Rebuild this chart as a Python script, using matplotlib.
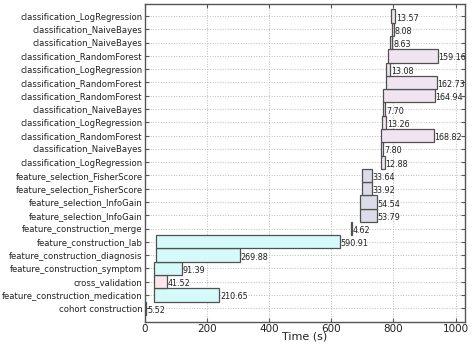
#!/usr/bin/env python3

import matplotlib
matplotlib.use("Agg")
import matplotlib.pyplot as plt

# bottom row first
tasks = ["cohort construction",
         "feature_construction_medication",
         "cross_validation",
         "feature_construction_symptom",
         "feature_construction_diagnosis",
         "feature_construction_lab",
         "feature_construction_merge",
         "feature_selection_InfoGain",
         "feature_selection_InfoGain",
         "feature_selection_FisherScore",
         "feature_selection_FisherScore",
         "classification_LogRegression",
         "classification_NaiveBayes",
         "classification_RandomForest",
         "classification_LogRegression",
         "classification_NaiveBayes",
         "classification_RandomForest",
         "classification_RandomForest",
         "classification_LogRegression",
         "classification_RandomForest",
         "classification_NaiveBayes",
         "classification_NaiveBayes",
         "classification_LogRegression"]
starts = [0, 30, 30, 29, 37, 37, 663, 693, 693, 698, 698,
          760, 760, 761, 763, 766, 768, 777, 777, 783, 788, 794, 792]
durations = [5.52, 210.65, 41.52, 91.39, 269.88, 590.91, 4.62, 53.79, 54.54,
             33.92, 33.64, 12.88, 7.80, 168.82, 13.26, 7.70, 164.94, 162.73,
             13.08, 159.16, 8.63, 8.08, 13.57]


def task_color(name):
    if name.startswith("classification"):
        return "#f0e4f0"
    if name.startswith("feature_selection"):
        return "#dcdce8"
    if name == "feature_construction_merge" or name.startswith("cohort"):
        return "#a8a8a8"
    if name.startswith("feature_construction"):
        return "#d4fafa"
    return "#fbe6ec"


def main():
    fig = plt.figure(figsize=(4.74, 3.45), dpi=100)
    ax = fig.add_axes([0.305, 0.068, 0.676, 0.920])

    ys = list(range(len(tasks)))
    colors = [task_color(t) for t in tasks]
    ax.barh(ys, durations, left=starts, height=1.0, color=colors,
            edgecolor="#505050", linewidth=0.9, zorder=3)

    for y, s, d in zip(ys, starts, durations):
        ax.text(s + d + 2, y - 0.15, "%.2f" % d, fontsize=5.8,
                va="center", ha="left", color="#222222", zorder=4)

    ax.set_yticks(ys)
    ax.set_yticklabels(tasks, fontsize=6.1, color="#222222")
    ax.set_xticks([0, 200, 400, 600, 800, 1000])
    ax.tick_params(axis="x", labelsize=7.5, colors="#222222", pad=1.5)
    ax.tick_params(axis="y", pad=1.5)
    ax.tick_params(direction="in", length=3, top=True, right=True,
                   color="#555555")
    ax.set_xlim(0, 1030)
    ax.set_ylim(-1, 22.9)
    ax.set_xlabel("Time (s)", fontsize=8, labelpad=-1.5, color="#222222")
    ax.grid(True, linestyle=":", color="#bbbbbb", linewidth=0.7, zorder=0)
    for sp in ax.spines.values():
        sp.set_color("#555555")
        sp.set_linewidth(1.0)

    fig.savefig("out.png", dpi=100)


if __name__ == '__main__':
    main()
